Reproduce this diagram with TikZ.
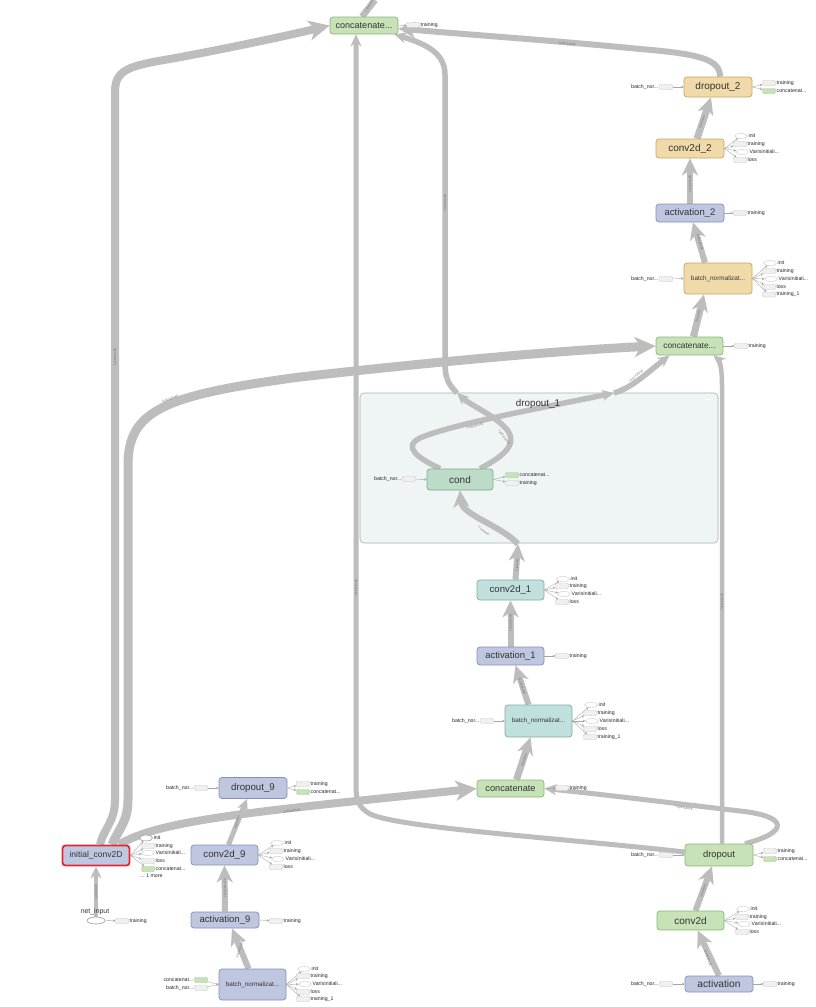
\documentclass[tikz,border=0pt]{standalone}
\usepackage{fontspec}
\setmainfont{Liberation Sans}
\usetikzlibrary{arrows.meta,shapes.geometric}
\definecolor{eg}{HTML}{BDBDBD}
\definecolor{txt}{HTML}{333333}
\definecolor{gfill}{HTML}{C6E2B6}\definecolor{gdraw}{HTML}{8DB67A}
\definecolor{ofill}{HTML}{F1DAAA}\definecolor{odraw}{HTML}{C6A565}
\definecolor{bfill}{HTML}{BEC7DF}\definecolor{bdraw}{HTML}{8690B6}
\definecolor{tfill}{HTML}{C0E0DE}\definecolor{tdraw}{HTML}{87ABA8}
\definecolor{cfill}{HTML}{BDDCC7}\definecolor{cdraw}{HTML}{80A68E}
\definecolor{clfill}{HTML}{EEF5F4}\definecolor{cldraw}{HTML}{A3B4B1}
\definecolor{redb}{HTML}{E8262E}
\pgfdeclarelayer{cll}\pgfdeclarelayer{bgl}
\pgfsetlayers{cll,bgl,main}
\tikzset{
 fs/.style={font=\fontsize{#1}{#1}\selectfont},
 op/.style={rounded corners=3pt, line width=0.7pt, inner sep=0pt, text=txt},
 greenop/.style={op, fill=gfill, draw=gdraw},
 orangeop/.style={op, fill=ofill, draw=odraw},
 blueop/.style={op, fill=bfill, draw=bdraw},
 tealop/.style={op, fill=tfill, draw=tdraw},
 condop/.style={op, fill=cfill, draw=cdraw},
 cluster/.style={draw=cldraw, fill=clfill, rounded corners=4pt, line width=0.6pt, minimum width=358pt, minimum height=150pt, inner sep=0pt},
 ed/.style={draw=eg, line width=#1},
 ahL/.style={-{Stealth[length=21pt,width=20pt,inset=6pt]}},
 ahM/.style={-{Stealth[length=17pt,width=16pt,inset=5pt]}},
 ahS/.style={-{Stealth[length=12pt,width=11pt,inset=4pt]}},
 elab/.style={font=\fontsize{3.2}{3.2}\selectfont, text=black!55, inner sep=0pt},
 auxbox/.style={draw=black!30, dash pattern=on 0.8pt off 0.5pt, fill=black!6, rounded corners=1.2pt, minimum width=13pt, minimum height=5pt, inner sep=0pt, line width=0.35pt},
 auxgrn/.style={auxbox, fill=gfill, draw=gdraw},
 auxell/.style={ellipse, draw=black!32, dash pattern=on 0.8pt off 0.5pt, fill=white, minimum width=13pt, minimum height=5pt, inner sep=0pt, line width=0.35pt},
 auxells/.style={ellipse, draw=black!45, fill=white, minimum width=13pt, minimum height=6pt, inner sep=0pt, line width=0.5pt},
 auxlab/.style={font=\fontsize{5.2}{5.2}\selectfont, inner sep=0.8pt, text=black!85},
 auxarr/.style={draw=black!35, line width=0.35pt, -{Stealth[length=2.5pt,width=2.5pt]}},
}
\newcommand\auxo[6]{\node[#3] (#2) at (#4,#5) {}; \node[auxlab, anchor=west] (#2l) at (#2.east) {#6}; \draw[auxarr] (#1) -- (#2);}
\newcommand\auxi[6]{\node[#3] (#2) at (#4,#5) {}; \node[auxlab, anchor=east] (#2l) at (#2.west) {#6}; \draw[auxarr] (#2) -- (#1);}
\begin{document}
\begin{tikzpicture}[x=1pt,y=-1pt]
\useasboundingbox (0,0) rectangle (815,1007);
\begin{pgfonlayer}{cll}
\fill[white] (0,0) rectangle (815,1007);
\node[cluster] (clu) at (539,468) {};
\end{pgfonlayer}
\draw[white, line width=1pt] (705,399) -- (711,399);
\node[fs=9.8, text=txt] (clt) at (538,404) {dropout\_1};
% ---- op nodes
\node[greenop, fs=9, minimum width=68pt, minimum height=17pt] (cTop) at (364,25.5) {concatenate...};
\node[orangeop, fs=10, minimum width=68pt, minimum height=20pt] (do2) at (718,87) {dropout\_2};
\node[orangeop, fs=10, minimum width=68pt, minimum height=19pt] (cv2) at (690,148.5) {conv2d\_2};
\node[blueop, fs=9.5, minimum width=68pt, minimum height=18pt] (ac2) at (690,213) {activation\_2};
\node[orangeop, fs=6.4, minimum width=68pt, minimum height=31pt] (bn2) at (718,278.5) {batch\_normalizat...};
\node[greenop, fs=8.3, minimum width=67pt, minimum height=18pt] (cMid) at (689.5,346) {concatenate...};
\node[condop, fs=10, minimum width=66pt, minimum height=21pt] (cond) at (460,479.5) {cond};
\node[tealop, fs=9.6, minimum width=67pt, minimum height=20pt] (cv1) at (510.5,590) {conv2d\_1};
\node[blueop, fs=9.4, minimum width=67pt, minimum height=18pt] (ac1) at (510.5,656) {activation\_1};
\node[tealop, fs=6.3, minimum width=67pt, minimum height=32pt] (bn1) at (538.5,721) {batch\_normalizat...};
\node[greenop, fs=9.2, minimum width=67pt, minimum height=17pt] (cc) at (510.5,788.5) {concatenate};
\node[blueop, fs=9.7, minimum width=68pt, minimum height=21pt] (do9) at (253,788) {dropout\_9};
\node[blueop, draw=redb, line width=1.8pt, fs=8.5, minimum width=67pt, minimum height=20pt] (ic) at (96,855.5) {initial\_conv2D};
\node[blueop, fs=9.7, minimum width=67pt, minimum height=20pt] (cv9) at (224.5,855) {conv2d\_9};
\node[blueop, fs=9.5, minimum width=68pt, minimum height=16pt] (ac9) at (225,920) {activation\_9};
\node[blueop, fs=6.3, minimum width=67pt, minimum height=31pt] (bn9) at (252.5,984.5) {batch\_normalizat...};
\node[greenop, fs=9.4, minimum width=68pt, minimum height=22pt] (do) at (719,855) {dropout};
\node[greenop, fs=10, minimum width=67pt, minimum height=19pt] (cv) at (690.5,920.5) {conv2d};
\node[blueop, fs=10.2, minimum width=68pt, minimum height=16pt] (ac) at (719,984) {activation};
\node[ellipse, draw=black!40, fill=white, line width=0.6pt, minimum width=18pt, minimum height=7pt, inner sep=0pt] (ni) at (96,920.5) {};
\node[fs=6.9, text=txt, inner sep=0pt] (nil) at (95,911.5) {net\_input};
% ---- cluster boundary points and free end
\coordinate (clA) at (614,393);
\coordinate (clB) at (457,393);
\coordinate (clC) at (518,544);
\coordinate (topout) at (375,0);
% ---- edges
\begin{pgfonlayer}{bgl}
\draw[ed=8pt, ahL] ([xshift=4pt]ic.north) .. controls (103,830) and (115,822) .. (115,800) -- (115,92) .. controls (115,70) and (128,66) .. (170,59) .. controls (230,48) and (290,35) .. (cTop.west);
\draw[ed=9pt, ahL] ([xshift=16pt]ic.north) .. controls (118,830) and (128,822) .. (128,800) -- (128,465) .. controls (128,410) and (165,395) .. (300,377) .. controls (450,360) and (570,350) .. (cMid.west);
\draw[ed=8pt, ahL] ([xshift=23pt]ic.north) .. controls (160,820) and (250,812) .. (cc.west);
\draw[ed=5pt, ahS] ([yshift=3pt]do.west) .. controls (560,838) and (400,828) .. (370,814) .. controls (358,807) and (356,800) .. (356,785) -- ([xshift=-8pt]cTop.south);
\draw[ed=5pt, ahS] ([xshift=26pt]do.north) .. controls (790,832) and (788,816) .. (740,811) .. controls (680,804) and (600,794) .. (cc.east);
\draw[ed=4.5pt, ahS] ([xshift=3pt]do.north) -- (722,385) .. controls (722,366) and (719,360) .. ([xshift=-10pt]cMid.south east);
\draw[ed=5.5pt, ahS] ([xshift=-20pt]cond.north) .. controls (418,458) and (402,447) .. (420,438) .. controls (450,425) and (530,410) .. (clA);
\draw[ed=5.5pt, ahS] (clA) .. controls (632,388) and (648,372) .. ([xshift=14pt]cMid.south west);
\draw[ed=5.5pt, ahS] ([xshift=20pt]cond.north) .. controls (500,458) and (518,446) .. (508,431) .. controls (498,417) and (470,405) .. (clB);
\draw[ed=5.5pt, ahS] (clB) .. controls (448,384) and (445,378) .. (445,362) -- (445,75) .. controls (445,55) and (430,45) .. ([xshift=-4pt]cTop.south east);
\draw[ed=6pt, ahM] ([xshift=5pt]cv1.north) -- (clC);
\draw[ed=6pt, ahM] (clC) .. controls (500,525) and (462,515) .. (cond.south);
\draw[ed=6pt, ahM] ([xshift=2pt]do2.north) .. controls (720,60) and (702,54) .. (640,49) .. controls (560,41) and (460,34) .. ([yshift=-3pt]cTop.east);
\draw[ed=6.5pt] ([xshift=-2pt]cTop.north) -- (topout);
\draw[ed=7pt, ahM] ([xshift=4pt]cMid.north) -- ([xshift=-14pt]bn2.south);
\draw[ed=6pt, ahM] ([xshift=-13pt]bn2.north) -- ([xshift=3pt]ac2.south);
\draw[ed=6pt, ahM] (ac2.north) -- (cv2.south);
\draw[ed=7pt, ahM] ([xshift=7pt]cv2.north) -- ([xshift=-7pt]do2.south);
\draw[ed=7pt, ahM] ([xshift=6pt]cc.north) -- ([xshift=-8pt]bn1.south);
\draw[ed=6pt, ahM] ([xshift=-10pt]bn1.north) -- ([xshift=5pt]ac1.south);
\draw[ed=6pt, ahM] (ac1.north) -- (cv1.south);
\draw[ed=6pt, ahM] ([xshift=-4pt]bn9.north) -- ([xshift=7pt]ac9.south);
\draw[ed=6pt, ahM] (ac9.north) -- (cv9.south);
\draw[ed=5pt, ahS] ([xshift=4pt]cv9.north) -- ([xshift=-6pt]do9.south);
\draw[ed=4pt, ahS] (ni.north) -- (ic.south);
\draw[ed=6pt, ahM] (ac.north) -- ([xshift=7pt]cv.south);
\draw[ed=6pt, ahM] ([xshift=5pt]cv.north) -- ([xshift=-7pt]do.south);
\end{pgfonlayer}
% ---- edge labels
\node[elab, rotate=90] (l1) at (115,357) {1x16x16x48};
\node[elab, rotate=20] (l2) at (170,399) {1x16x16x48};
\node[elab, rotate=7] (l3) at (292,811) {1x16x16x48};
\node[elab, rotate=90] (l4) at (96,892) {1x16x16x3};
\node[elab, rotate=70] (l5) at (240,949) {1x16x16x176};
\node[elab, rotate=90] (l6) at (225,888) {1x16x16x176};
\node[elab, rotate=75] (l7) at (237,822) {2 tensors};
\node[elab, rotate=-8] (l8) at (684,808) {?x16x16x16};
\node[elab, rotate=90] (l9) at (356,588) {?x16x16x16};
\node[elab, rotate=90] (l10) at (722,602) {?x16x16x16};
\node[elab, rotate=90] (l11) at (445,203) {?x16x16x16};
\node[elab, rotate=-6] (l12) at (567,44) {?x16x16x16};
\node[elab, rotate=60] (l13) at (369,6) {2 tensors};
\node[elab, rotate=70] (l14) at (702,122) {2 tensors};
\node[elab, rotate=90] (l15) at (690,184) {1x16x16x80};
\node[elab, rotate=-74] (l16) at (700,242) {1x16x16x64};
\node[elab, rotate=76] (l17) at (698,316) {2 tensors};
\node[elab, rotate=72] (l18) at (524,760) {2 tensors};
\node[elab, rotate=-72] (l19) at (522,686) {1x16x16x64};
\node[elab, rotate=90] (l20) at (510.5,623) {1x16x16x64};
\node[elab, rotate=88] (l21) at (517,565) {2 tensors};
\node[elab, rotate=-38] (l22) at (484,531) {2 tensors};
\node[elab, rotate=16] (l23) at (475,426) {?x16x16x16};
\node[elab, rotate=-52] (l24) at (504,437) {?x16x16x16};
\node[elab, rotate=38] (l25) at (636,376) {?x16x16x16};
\node[elab, rotate=-70] (l26) at (708,958) {1x16x16x32};
\node[elab, rotate=72] (l27) at (703,891) {2 tensors};
% ---- auxiliary inputs / outputs
\auxo{cTop.east}{a1}{auxbox}{413}{25}{training}
\auxi{do2.west}{a2}{auxbox}{666}{87}{batch\_nor...}
\auxo{do2.east}{a3}{auxbox}{769}{83}{training}
\auxo{do2.east}{a4}{auxgrn}{769}{91}{concatenat...}
\auxo{cv2.east}{a5}{auxell}{741}{136}{init}
\auxo{cv2.east}{a6}{auxbox}{740}{144}{training}
\auxo{cv2.east}{a7}{auxell}{742}{152}{VarIsInitiali...}
\auxo{cv2.east}{a8}{auxbox}{740}{160}{loss}
\auxo{ac2.east}{a9}{auxbox}{740}{213}{training}
\auxi{bn2.west}{a10}{auxbox}{666}{279}{batch\_nor...}
\auxo{bn2.east}{a11}{auxell}{770}{263}{init}
\auxo{bn2.east}{a12}{auxbox}{769}{271}{training}
\auxo{bn2.east}{a13}{auxell}{771}{279}{VarIsInitiali...}
\auxo{bn2.east}{a14}{auxbox}{769}{287}{loss}
\auxo{bn2.east}{a15}{auxbox}{769}{294.5}{training\_1}
\auxo{cMid.east}{a16}{auxbox}{741}{346}{training}
\auxi{cond.west}{a17}{auxbox}{409}{479}{batch\_nor...}
\auxo{cond.east}{a18}{auxgrn}{512}{475}{concatenat...}
\auxo{cond.east}{a19}{auxbox}{512}{483}{training}
\auxo{cv1.east}{a20}{auxell}{563}{579}{init}
\auxo{cv1.east}{a21}{auxbox}{562}{586}{training}
\auxo{cv1.east}{a22}{auxell}{564}{594}{VarIsInitiali...}
\auxo{cv1.east}{a23}{auxbox}{562}{602}{loss}
\auxo{ac1.east}{a24}{auxbox}{562}{656}{training}
\auxi{bn1.west}{a25}{auxbox}{487}{721}{batch\_nor...}
\auxo{bn1.east}{a26}{auxell}{591}{705}{init}
\auxo{bn1.east}{a27}{auxbox}{590}{713}{training}
\auxo{bn1.east}{a28}{auxell}{592}{721}{VarIsInitiali...}
\auxo{bn1.east}{a29}{auxbox}{590}{729}{loss}
\auxo{bn1.east}{a30}{auxbox}{590}{737}{training\_1}
\auxo{cc.east}{a31}{auxbox}{562}{788}{training}
\auxi{do9.west}{a32}{auxbox}{201}{788}{batch\_nor...}
\auxo{do9.east}{a33}{auxbox}{303}{784}{training}
\auxo{do9.east}{a34}{auxgrn}{303}{792}{concatenat...}
\auxo{ic.east}{a35}{auxells}{146}{838}{init}
\auxo{ic.east}{a36}{auxbox}{148}{846}{training}
\auxo{ic.east}{a37}{auxell}{148}{853}{VarIsInitiali...}
\auxo{ic.east}{a38}{auxbox}{148}{861}{loss}
\auxo{ic.east}{a39}{auxgrn}{148}{869}{concatenat...}
\node[auxlab, anchor=west] (a40) at (139,875.5) {... 1 more};
\auxo{cv9.east}{a41}{auxell}{277}{843}{init}
\auxo{cv9.east}{a42}{auxbox}{276}{851}{training}
\auxo{cv9.east}{a43}{auxell}{278}{859}{VarIsInitiali...}
\auxo{cv9.east}{a44}{auxbox}{276}{867}{loss}
\auxo{ni.east}{a45}{auxbox}{122}{921}{training}
\auxo{ac9.east}{a46}{auxbox}{276}{921}{training}
\auxi{bn9.west}{a47}{auxgrn}{201}{980}{concatenat...}
\auxi{bn9.west}{a48}{auxbox}{201}{988}{batch\_nor...}
\auxo{bn9.east}{a49}{auxell}{304}{969}{init}
\auxo{bn9.east}{a50}{auxbox}{303}{976}{training}
\auxo{bn9.east}{a51}{auxell}{305}{984}{VarIsInitiali...}
\auxo{bn9.east}{a52}{auxbox}{303}{992}{loss}
\auxo{bn9.east}{a53}{auxbox}{303}{999}{training\_1}
\auxi{do.west}{a54}{auxbox}{666}{855}{batch\_nor...}
\auxo{do.east}{a55}{auxbox}{770}{851}{training}
\auxo{do.east}{a56}{auxgrn}{770}{859}{concatenat...}
\auxo{cv.east}{a57}{auxell}{743}{909}{init}
\auxo{cv.east}{a58}{auxbox}{742}{917}{training}
\auxo{cv.east}{a59}{auxell}{744}{924}{VarIsInitiali...}
\auxo{cv.east}{a60}{auxbox}{742}{932}{loss}
\auxi{ac.west}{a61}{auxbox}{666}{984}{batch\_nor...}
\auxo{ac.east}{a62}{auxbox}{770}{984}{training}
\end{tikzpicture}
\end{document}
